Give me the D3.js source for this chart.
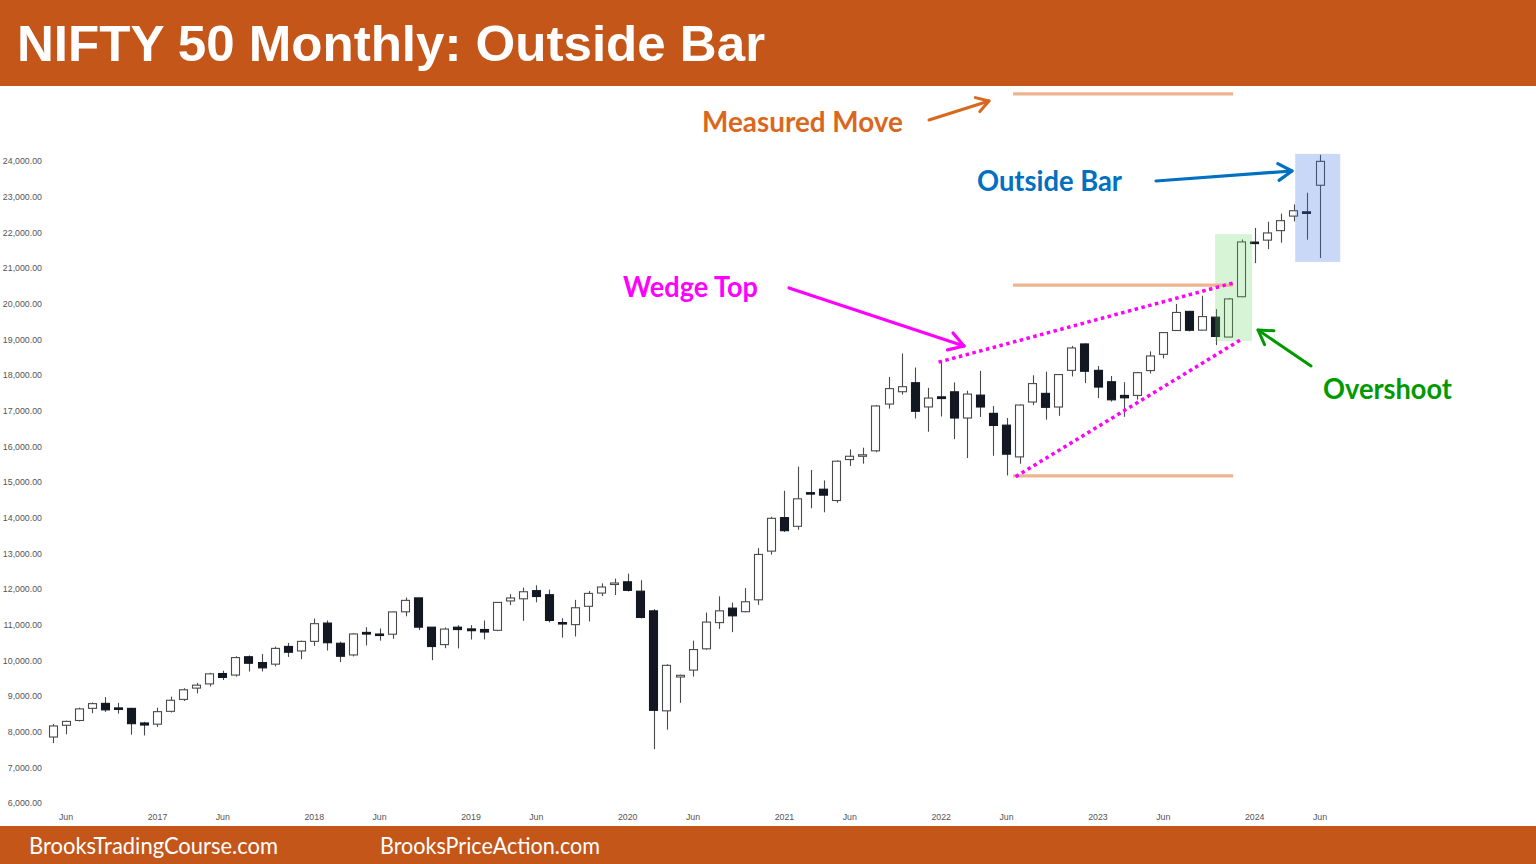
<!DOCTYPE html>
<html><head><meta charset="utf-8">
<script src="https://cdn.jsdelivr.net/npm/d3@7"></script>
<style>html,body{margin:0;padding:0;background:#fff;overflow:hidden}</style>
</head><body>
<svg id="chart" width="1536" height="864"></svg>
<script>
// ---------- data ----------
const months = ["2016-05","2016-06","2016-07","2016-08","2016-09","2016-10","2016-11","2016-12",
"2017-01","2017-02","2017-03","2017-04","2017-05","2017-06","2017-07","2017-08","2017-09","2017-10","2017-11","2017-12",
"2018-01","2018-02","2018-03","2018-04","2018-05","2018-06","2018-07","2018-08","2018-09","2018-10","2018-11","2018-12",
"2019-01","2019-02","2019-03","2019-04","2019-05","2019-06","2019-07","2019-08","2019-09","2019-10","2019-11","2019-12",
"2020-01","2020-02","2020-03","2020-04","2020-05","2020-06","2020-07","2020-08","2020-09","2020-10","2020-11","2020-12",
"2021-01","2021-02","2021-03","2021-04","2021-05","2021-06","2021-07","2021-08","2021-09","2021-10","2021-11","2021-12",
"2022-01","2022-02","2022-03","2022-04","2022-05","2022-06","2022-07","2022-08","2022-09","2022-10","2022-11","2022-12",
"2023-01","2023-02","2023-03","2023-04","2023-05","2023-06","2023-07","2023-08","2023-09","2023-10","2023-11","2023-12",
"2024-01","2024-02","2024-03","2024-04","2024-05","2024-06"];

const openV = [7850,8179,8313,8654,8793,8666,8653,8244,
8210,8570,8905,9221,9339,9630,9587,10101,9937,9893,10390,10263,
10532,11045,10479,10151,10783,10738,10732,11360,11751,10930,10441,10930,
10881,10865,10842,11665,11725,11954,11840,11060,11001,11515,11886,12137,
12202,11939,11388,8584,9533,9726,10323,11058,11464,11364,11697,13062,
14002,13758,14702,14798,14481,15629,15755,15874,17185,17531,17784,17104,
17388,17529,16794,17436,16925,16594,15704,17243,17485,17102,18130,18871,
18131,17811,17428,17428,18124,18579,19248,19784,19258,19622,19064,20195,
21727,21781,22048,22455,22575,23320];

const highV = [8213,8308,8674,8819,8968,8807,8669,8274,
8672,8982,9218,9367,9650,9709,10115,10138,10179,10384,10490,10552,
11172,11117,10525,10759,10929,10893,11366,11760,11751,10930,10922,10985,
10988,11118,11630,11856,12041,12103,11982,11182,11695,11945,12158,12294,
12430,12246,11433,9889,9598,10554,11341,11794,11618,12025,13146,14024,
14754,15432,15336,15044,15606,15915,15962,17153,17947,18604,18210,17640,
18351,17794,17560,18115,17132,16794,17172,17992,18096,18022,18816,18887,
18251,17972,17799,18089,18662,19201,19992,19796,20222,19849,20158,21801,
22124,22297,22526,22783,23111,24174];

const lowV = [7678,7927,8287,8518,8555,8506,7916,7894,
8133,8537,8861,9075,9269,9448,9543,9686,9688,9831,10095,10033,
10404,10276,9951,10111,10417,10551,10604,11234,10850,10005,10341,10334,
10584,10586,10817,11549,11108,11626,11061,10637,10670,11090,11802,11832,
11929,11175,7511,8055,8807,9544,10299,10882,10790,11347,11557,12962,
13597,13662,14264,14151,14416,15451,15514,15834,17055,17452,16782,16410,
16837,16203,15671,16824,15736,15183,15512,17154,16748,16855,17959,17774,
17353,17255,16828,17312,18043,18464,19235,19224,19255,18837,19058,20183,
21137,21530,21710,22307,21794,21281];

const closeV = [8160,8288,8639,8786,8611,8626,8224,8186,
8561,8880,9174,9304,9621,9521,10077,9918,9789,10335,10227,10531,
11028,10493,10114,10739,10736,10714,11357,11681,10930,10387,10877,10863,
10831,10793,11624,11748,11923,11789,11118,11023,11474,11877,12056,12168,
11962,11202,8598,9860,9580,10302,11073,11388,11248,11642,12969,13982,
13635,14529,14691,14631,15583,15722,15763,17132,17618,17672,16983,17354,
17340,16794,17465,17103,16585,15780,17158,17759,17094,18012,18758,18105,
17662,17304,17360,18065,18534,19189,19754,19254,19638,19080,20133,21731,
21726,21983,22327,22605,22531,23990];

const yTicks = [6000,7000,8000,9000,10000,11000,12000,13000,14000,15000,16000,17000,18000,19000,20000,21000,22000,23000,24000];
const xTickMonths = ["2016-06","2017-01","2017-06","2018-01","2018-06","2019-01","2019-06","2020-01","2020-06","2021-01","2021-06","2022-01","2022-06","2023-01","2023-06","2024-01","2024-06"];
const xTickLabels = ["Jun","2017","Jun","2018","Jun","2019","Jun","2020","Jun","2021","Jun","2022","Jun","2023","Jun","2024","Jun"];

// measured-move levels (price) and their month span (index)
const mmLevels = [25880, 20520, 15170];
const mmSpan = [73.5, 90.35];
// wedge lines: [startIndex, startPrice, endIndex, endPrice]
const wedgeUpper = [67.8, 18360, 90.35, 20580];
const wedgeLower = [73.7, 15150, 90.9, 18980];
// highlight boxes: [i0, i1, priceTop, priceBottom]
const overshootBox = [88.97, 91.8, 21950, 18950];
const outsideBox = [95.1, 98.55, 24200, 21170];

// ---------- drawing ----------
const svg = d3.select("#chart");
const W = 1536, H = 864;
const orange = "#C4561A";

const x = d3.scaleBand().domain(months).range([46.47, 1326.53]).paddingInner(0.32).paddingOuter(0.16);
const bw = x.bandwidth();
const cx = m => x(m) + bw / 2;
const xi = d3.scaleLinear().domain([0, months.length - 1]).range([cx(months[0]), cx(months[months.length - 1])]);
const y = d3.scaleLinear().domain([6000, 24000]).range([803, 161]);

svg.append("rect").attr("width", W).attr("height", H).attr("fill", "#fff");

// y axis labels
const yAxis = d3.axisLeft(y).tickValues(yTicks).tickFormat(d3.format(",.2f")).tickSize(0).tickPadding(0);
const gy = svg.append("g").attr("transform", "translate(42,0)").call(yAxis);
gy.select(".domain").remove();
gy.selectAll("text").attr("font-family", "Liberation Sans, Arial, sans-serif").attr("font-size", 8.8).attr("fill", "#555");

// x axis labels
const xAxis = d3.axisBottom(x).tickValues(xTickMonths).tickFormat((d) => xTickLabels[xTickMonths.indexOf(d)]).tickSize(0).tickPadding(0);
const gx = svg.append("g").attr("transform", "translate(0,814)").call(xAxis);
gx.select(".domain").remove();
gx.selectAll("text").attr("font-family", "Liberation Sans, Arial, sans-serif").attr("font-size", 8.8).attr("fill", "#555");

// candles
const data = months.map((m, i) => ({m, o: openV[i], h: highV[i], l: lowV[i], c: closeV[i]}));
const gc = svg.append("g");
gc.selectAll("line.wick").data(data).join("line")
  .attr("class", "wick")
  .attr("x1", d => Math.round(cx(d.m)) + 0.5).attr("x2", d => Math.round(cx(d.m)) + 0.5)
  .attr("y1", d => y(d.h)).attr("y2", d => y(d.l))
  .attr("stroke", "#4a4a4a").attr("stroke-width", 1.1);
gc.selectAll("rect.body").data(data).join("rect")
  .attr("class", "body")
  .attr("x", d => Math.round(cx(d.m) - bw / 2) + 0.5)
  .attr("width", Math.round(bw) - 1)
  .attr("y", d => y(Math.max(d.o, d.c)))
  .attr("height", d => Math.max(1.5, Math.abs(y(d.o) - y(d.c))))
  .attr("fill", d => d.c >= d.o ? "#ffffff" : "#131722")
  .attr("stroke", d => d.c >= d.o ? "#4a4a4a" : "#131722")
  .attr("stroke-width", 1.1);

// highlight boxes
function box(b, color, op) {
  svg.append("rect")
    .attr("x", xi(b[0])).attr("width", xi(b[1]) - xi(b[0]))
    .attr("y", y(b[2])).attr("height", y(b[3]) - y(b[2]))
    .attr("fill", color).attr("opacity", op);
}
box(overshootBox, "#5fd35f", 0.25);
box(outsideBox, "#3a6ee0", 0.27);

// measured move lines
svg.append("g").selectAll("line").data(mmLevels).join("line")
  .attr("x1", xi(mmSpan[0])).attr("x2", xi(mmSpan[1]))
  .attr("y1", d => y(d)).attr("y2", d => y(d))
  .attr("stroke", "#EDB48F").attr("stroke-width", 3.2);

// wedge lines
[wedgeUpper, wedgeLower].forEach(w => {
  svg.append("line")
    .attr("x1", xi(w[0])).attr("y1", y(w[1]))
    .attr("x2", xi(w[2])).attr("y2", y(w[3]))
    .attr("stroke", "#FF00FF").attr("stroke-width", 3.5)
    .attr("stroke-dasharray", "3.5 3.5");
});

// arrows
function arrow(x1, y1, x2, y2, color, sw, hl) {
  const g = svg.append("g").attr("stroke", color).attr("stroke-width", sw).attr("fill", "none")
    .attr("stroke-linecap", "round").attr("stroke-linejoin", "round");
  g.append("line").attr("x1", x1).attr("y1", y1).attr("x2", x2).attr("y2", y2);
  const a = Math.atan2(y2 - y1, x2 - x1);
  const s = 0.55;
  const p1 = [x2 - hl * Math.cos(a - s), y2 - hl * Math.sin(a - s)];
  const p2 = [x2 - hl * Math.cos(a + s), y2 - hl * Math.sin(a + s)];
  g.append("path").attr("d", `M${p1[0]},${p1[1]}L${x2},${y2}L${p2[0]},${p2[1]}`);
}
arrow(789, 288, 964, 346, "#FF00FF", 3.2, 17);
arrow(929, 120, 989, 101, "#D9681E", 3, 14);
arrow(1156, 181, 1292, 171, "#0070C0", 3.2, 16);
arrow(1311, 366, 1258, 330, "#009A00", 3, 16);

// annotation texts
function label(txt, x0, yb, w, color, size) {
  svg.append("text").attr("x", x0).attr("y", yb).text(txt)
    .attr("font-family", "Lato, 'Open Sans', sans-serif").attr("font-weight", 700)
    .attr("font-size", size).attr("fill", color)
    .attr("textLength", w).attr("lengthAdjust", "spacingAndGlyphs");
}
label("Measured Move", 702, 132, 201, "#D9681E", 28);
label("Wedge Top", 623, 297, 135, "#FF00FF", 28);
label("Outside Bar", 977, 191, 145, "#0070C0", 28);
label("Overshoot", 1323, 399, 129, "#009A00", 28);

// header bar
svg.append("rect").attr("x", 0).attr("y", 0).attr("width", W).attr("height", 86).attr("fill", orange);
svg.append("text").attr("x", 17).attr("y", 61).text("NIFTY 50 Monthly: Outside Bar")
  .attr("font-family", "'Liberation Sans', Arial, sans-serif").attr("font-weight", 700)
  .attr("font-size", 50).attr("fill", "#fff")
  .attr("textLength", 748).attr("lengthAdjust", "spacingAndGlyphs");

// footer bar
svg.append("rect").attr("x", 0).attr("y", 826).attr("width", W).attr("height", 38).attr("fill", orange);
svg.append("text").attr("x", 29).attr("y", 854).text("BrooksTradingCourse.com")
  .attr("font-family", "Lato, 'Open Sans', sans-serif").attr("font-size", 23.5).attr("fill", "#fff")
  .attr("textLength", 249).attr("lengthAdjust", "spacingAndGlyphs");
svg.append("text").attr("x", 380).attr("y", 854).text("BrooksPriceAction.com")
  .attr("font-family", "Lato, 'Open Sans', sans-serif").attr("font-size", 23.5).attr("fill", "#fff")
  .attr("textLength", 220).attr("lengthAdjust", "spacingAndGlyphs");
</script>
</body></html>
